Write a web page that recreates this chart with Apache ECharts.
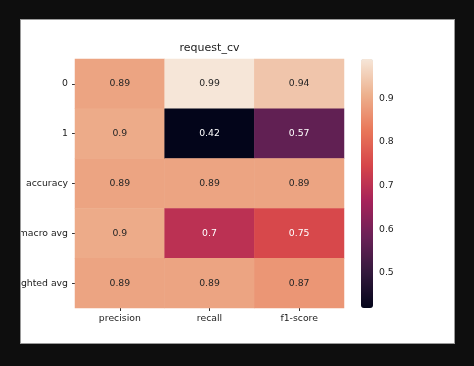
<!DOCTYPE html>
<html>
<head>
<meta charset="utf-8">
<script src="https://cdn.jsdelivr.net/npm/echarts@6/dist/echarts.min.js"></script>
<style>
  html, body { margin: 0; padding: 0; background: #0e0e0e; width: 474px; height: 366px; overflow: hidden; }
  #panel { position: absolute; left: 20px; top: 19px; width: 433px; height: 323px; border: 1px solid #9a9a9a; background: #ffffff; overflow: hidden; }
  #chart { position: absolute; left: -1px; top: -1px; width: 435px; height: 325px; }
</style>
</head>
<body>
<div id="panel"><div id="chart"></div></div>
<script>
const title = 'request_cv';
const metrics = ['precision', 'recall', 'f1-score'];
const rows = ['0', '1', 'accuracy', 'macro avg', 'weighted avg'];
const precision = [0.89, 0.9, 0.89, 0.9, 0.89];
const recall = [0.99, 0.42, 0.89, 0.7, 0.89];
const f1score = [0.94, 0.57, 0.89, 0.75, 0.87];
const colorTicks = [0.5, 0.6, 0.7, 0.8, 0.9];

const columns = [precision, recall, f1score];
const allVals = columns.flat();
const vmin = Math.min(...allVals);
const vmax = Math.max(...allVals);

// seaborn "rocket"-like colormap stops (tuned to the reference)
const rocket = ['#03051A', '#33193D', '#6A2157', '#A6225A', '#D6454A', '#E9785A', '#EDB18E', '#F6E6D8'];

const data = [];
columns.forEach((col, xi) => {
  col.forEach((v, yi) => {
    const t = (v - vmin) / (vmax - vmin);
    data.push({
      value: [xi, yi, v],
      label: { color: t < 0.62 ? '#ffffff' : '#262626' }
    });
  });
});

const chart = echarts.init(document.getElementById('chart'), null, { renderer: 'canvas' });
const font = 'DejaVu Sans';
chart.setOption({
  animation: false,
  textStyle: { fontFamily: font },
  title: {
    text: title, left: 189.5, top: 23.5, textAlign: 'center', padding: 0,
    textStyle: { fontFamily: font, fontSize: 11, fontWeight: 'normal', color: '#222222' }
  },
  grid: [
    { left: 55, top: 40, width: 269, height: 249, containLabel: false, outerBoundsMode: 'none' },
    { left: 341, top: 40, width: 12, height: 249, containLabel: false, outerBoundsMode: 'none' }
  ],
  xAxis: [
    {
      type: 'category', data: metrics, gridIndex: 0, position: 'bottom',
      axisLine: { show: false },
      axisTick: { show: true, alignWithLabel: true, length: 3, lineStyle: { color: '#333' } },
      axisLabel: { fontFamily: font, fontSize: 9.3, color: '#222222', margin: 6 },
      splitLine: { show: false }
    },
    { type: 'value', gridIndex: 1, show: false, min: 0, max: 1 }
  ],
  yAxis: [
    {
      type: 'category', data: rows, gridIndex: 0, inverse: true,
      axisLine: { show: false },
      axisTick: { show: true, alignWithLabel: true, length: 3, lineStyle: { color: '#333' } },
      axisLabel: { fontFamily: font, fontSize: 9.3, color: '#222222', margin: 7 },
      splitLine: { show: false }
    },
    {
      type: 'value', gridIndex: 1, position: 'right', min: vmin, max: vmax,
      axisLine: { show: false },
      axisTick: { show: true, length: 3, customValues: colorTicks, lineStyle: { color: '#333' } },
      axisLabel: { fontFamily: font, fontSize: 9.3, color: '#222222', margin: 6, customValues: colorTicks,
        formatter: v => (Math.round(v * 10) / 10).toFixed(1) },
      splitLine: { show: false }
    }
  ],
  visualMap: {
    type: 'continuous', min: vmin, max: vmax, dimension: 2, seriesIndex: 0,
    calculable: false, show: true, orient: 'vertical',
    left: 341, top: 40, itemWidth: 12, itemHeight: 249, padding: 0,
    text: null, showLabel: false,
    inRange: { color: rocket }
  },
  series: [{
    type: 'heatmap', xAxisIndex: 0, yAxisIndex: 0, data: data,
    label: { show: true, fontFamily: font, fontSize: 9.3, formatter: p => String(p.value[2]) },
    itemStyle: { borderWidth: 0 },
    emphasis: { disabled: true }
  }]
});
</script>
</body>
</html>
